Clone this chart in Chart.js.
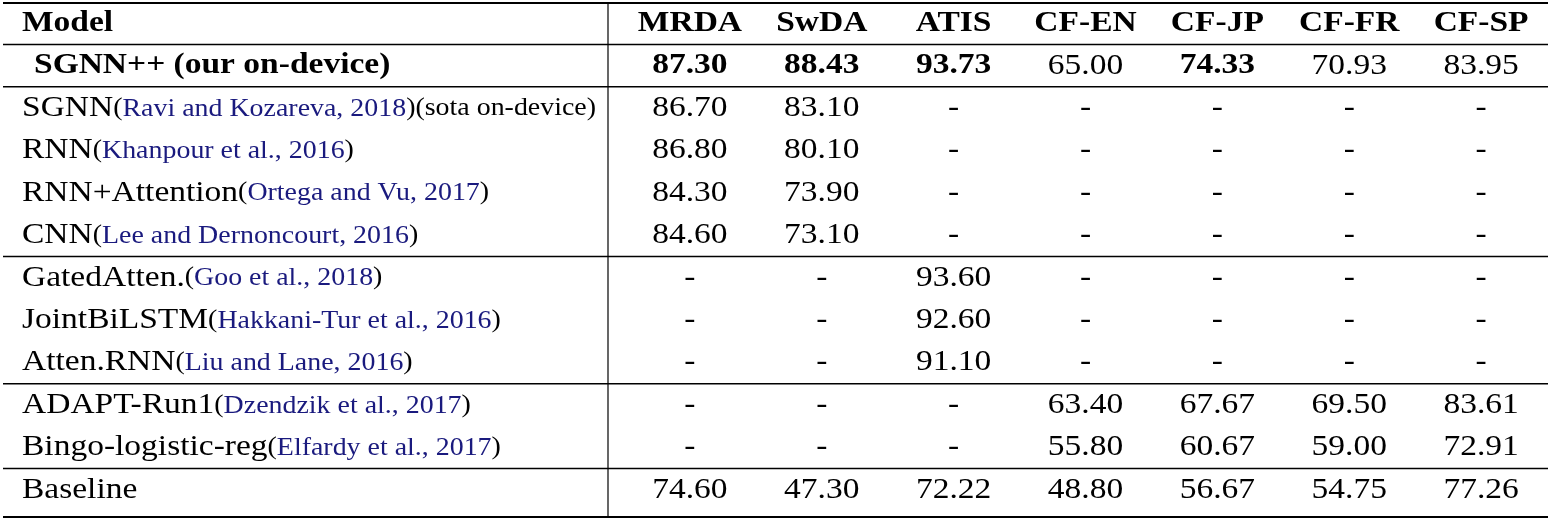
<!DOCTYPE html>
<html><head><meta charset="utf-8">
<script src="https://cdn.jsdelivr.net/npm/chart.js@4/dist/chart.umd.min.js"></script>
<style>html,body{margin:0;padding:0;background:#fff}#w{width:1551px;height:520px}</style>
</head><body><div id="w"><canvas id="c"></canvas></div>
<script>
const columns = ['MRDA','SwDA','ATIS','CF-EN','CF-JP','CF-FR','CF-SP'];
const models = ['SGNN++ (our on-device)','SGNN','RNN','RNN+Attention','CNN','GatedAtten.','JointBiLSTM','Atten.RNN','ADAPT-Run1','Bingo-logistic-reg','Baseline'];
const citations = ['', 'Ravi and Kozareva, 2018', 'Khanpour et al., 2016', 'Ortega and Vu, 2017', 'Lee and Dernoncourt, 2016', 'Goo et al., 2018', 'Hakkani-Tur et al., 2016', 'Liu and Lane, 2016', 'Dzendzik et al., 2017', 'Elfardy et al., 2017', ''];
const suffixes = ['', '(sota on-device)', '', '', '', '', '', '', '', '', ''];
const MRDA  = [87.30, 86.70, 86.80, 84.30, 84.60, null, null, null, null, null, 74.60];
const SwDA  = [88.43, 83.10, 80.10, 73.90, 73.10, null, null, null, null, null, 47.30];
const ATIS  = [93.73, null, null, null, null, 93.60, 92.60, 91.10, null, null, 72.22];
const CF_EN = [65.00, null, null, null, null, null, null, null, 63.40, 55.80, 48.80];
const CF_JP = [74.33, null, null, null, null, null, null, null, 67.67, 60.67, 56.67];
const CF_FR = [70.93, null, null, null, null, null, null, null, 69.50, 59.00, 54.75];
const CF_SP = [83.95, null, null, null, null, null, null, null, 83.61, 72.91, 77.26];
const boldTop = [true, true, true, false, true, false, false];
const groupBreaks = [0, 4, 7, 9];
const series = [MRDA, SwDA, ATIS, CF_EN, CF_JP, CF_FR, CF_SP];
const rowLabels = ['Model', ...models];

const points = [];
series.forEach((arr, ci) => arr.forEach((v, ri) => points.push({x: columns[ci], y: rowLabels[ri+1], v, ci, ri})));

let SX = 1.3;
function txt(ctx, s, x, y, font, color, align) {
  ctx.save(); ctx.font = font; ctx.fillStyle = color; ctx.textBaseline = 'middle';
  const w = ctx.measureText(s).width * SX;
  let x0 = align === 'center' ? x - w/2 : x;
  ctx.translate(x0, y); ctx.scale(SX, 1); ctx.textAlign = 'left'; ctx.fillText(s, 0, 0);
  ctx.restore(); return w;
}
const F = '"Liberation Serif", serif';
const tablePlugin = {
  id: 'table',
  afterDatasetsDraw(chart) {
    const ctx = chart.ctx, xs = chart.scales.x, ys = chart.scales.y;
    // stretch so that the SGNN row spans its reference width
    ctx.save(); ctx.font = '30px ' + F; let w0 = ctx.measureText('SGNN').width;
    ctx.font = '25px ' + F; w0 += ctx.measureText('(Ravi and Kozareva, 2018)(sota on-device)').width; ctx.restore();
    SX = 574 / w0;
    const step = ys.getPixelForValue(1) - ys.getPixelForValue(0);
    const top = ys.getPixelForValue(0) - step/2, bottom = ys.getPixelForValue(rowLabels.length-1) + step/2 + 6;
    const L = 3, R = 1548, vx = xs.left - 16, mx = 22;
    txt(ctx, 'Model', mx, ys.getPixelForValue(0), 'bold 30px ' + F, '#000', 'left');
    columns.forEach((c, i) => txt(ctx, c, xs.getPixelForValue(i), ys.getPixelForValue(0), 'bold 30px ' + F, '#000', 'center'));
    models.forEach((m, r) => {
      const y = ys.getPixelForValue(r+1);
      if (r === 0) { txt(ctx, m, mx + 12, y, 'bold 30px ' + F, '#000', 'left'); return; }
      let x = mx;
      x += txt(ctx, m, x, y, '30px ' + F, '#000', 'left');
      if (citations[r]) {
        x += txt(ctx, '(', x, y, '25px ' + F, '#000', 'left');
        x += txt(ctx, citations[r], x, y + 1, '25px ' + F, '#1a1a7e', 'left');
        x += txt(ctx, ')', x, y, '25px ' + F, '#000', 'left');
      }
      if (suffixes[r]) txt(ctx, suffixes[r], x, y, '25px ' + F, '#000', 'left');
    });
    const meta = chart.getDatasetMeta(0);
    meta.data.forEach((el, i) => {
      const p = points[i];
      const s = p.v == null ? '-' : p.v.toFixed(2);
      const bold = p.ri === 0 && boldTop[p.ci];
      txt(ctx, s, el.x, el.y, (bold ? 'bold ' : '') + '30px ' + F, '#000', 'center');
    });
    ctx.save(); ctx.strokeStyle = '#000';
    const hl = (y, w) => { ctx.lineWidth = w; ctx.beginPath(); ctx.moveTo(L, y); ctx.lineTo(R, y); ctx.stroke(); };
    hl(top + 1, 2);
    hl(top + step, 1.5);
    groupBreaks.forEach(g => hl(top + step * (g + 2), 1.5));
    hl(bottom, 2);
    ctx.lineWidth = 1.2; ctx.beginPath(); ctx.moveTo(vx, top); ctx.lineTo(vx, bottom); ctx.stroke();
    ctx.restore();
  }
};

function build() {
  new Chart(document.getElementById('c'), {
    type: 'scatter',
    data: { datasets: [{ data: points, pointRadius: 0, pointHoverRadius: 0 }] },
    options: {
      responsive: true, maintainAspectRatio: false, animation: false,
      layout: { padding: { left: 624, right: 4, top: 2, bottom: 9 } },
      plugins: { legend: { display: false }, tooltip: { enabled: false } },
      scales: {
        x: { type: 'category', labels: columns, offset: true, display: false },
        y: { type: 'category', labels: rowLabels, offset: true, display: false }
      }
    },
    plugins: [tablePlugin]
  });
}
Promise.all([
  document.fonts.load('30px "Liberation Serif"'),
  document.fonts.load('bold 30px "Liberation Serif"'),
  document.fonts.load('25px "Liberation Serif"')
]).then(build, build);
</script></body></html>
